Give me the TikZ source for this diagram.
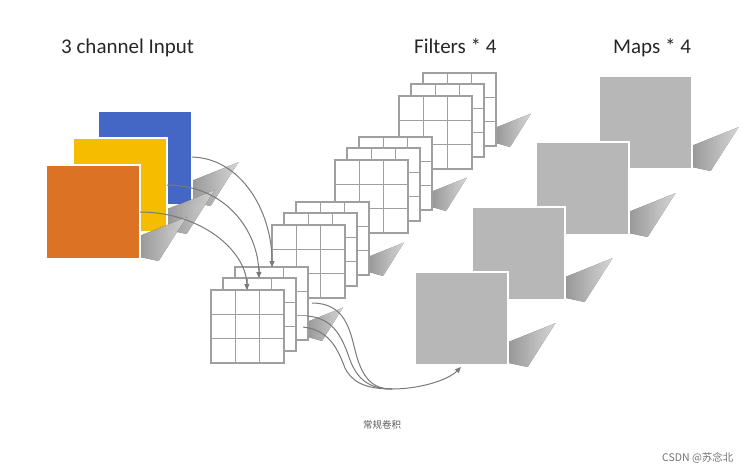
\documentclass[tikz,border=0pt]{standalone}
\usepackage{fontspec}
\setmainfont{Carlito}
\newfontfamily\cjk{Noto Sans CJK SC}
\usetikzlibrary{calc,arrows.meta}
\definecolor{cblue}{HTML}{4466C4}
\definecolor{cyel}{HTML}{F5BC00}
\definecolor{corg}{HTML}{DC7223}
\definecolor{cmap}{HTML}{B7B7B7}
\definecolor{cline}{HTML}{7A7A7A}
\tikzset{
  sq/.style={draw=white,line width=1.2pt,anchor=north west,minimum size=#1,inner sep=0pt,outer sep=0pt},
  cell/.style={sq=73pt,draw=gray!75,fill=white,line width=1.1pt},
  gl/.style={draw=gray!75,line width=1.1pt},
  conn/.style={draw=cline,line width=1pt},
  title/.style={font=\fontsize{21}{25}\selectfont,text=black!85,anchor=base west,inner sep=0pt},
  shadowq/.style={left color=black!30,right color=white,draw=none,opacity=0.8}
}
\newcommand{\shad}[3]{% right x, bottom y, size
  \fill[shadowq] (#1,#2-2) -- (#1,#2-#3*0.25) -- (#1+#3*0.5,#2-#3*0.45) -- (#1+#3*0.2,#2+2) -- cycle;}
\newcommand{\flt}[3]{% name, x, y
  \node[cell] (#1) at (#2,#3) {};
  \foreach \t in {1,2}{
    \draw[gl] ($(#1.north west)!\t/3!(#1.north east)$) -- ($(#1.south west)!\t/3!(#1.south east)$);
    \draw[gl] ($(#1.north west)!\t/3!(#1.south west)$) -- ($(#1.north east)!\t/3!(#1.south east)$);}}
\newcommand{\fstack}[3]{% prefix, x, y of front
  \shad{#2+24+73}{#3-24+73}{70}
  \flt{#1c}{#2+24}{#3-23}
  \flt{#1b}{#2+12}{#3-12}
  \flt{#1a}{#2}{#3}}
\begin{document}
\begin{tikzpicture}[x=1pt,y=-1pt]
\useasboundingbox (0,0) rectangle (743,475);
\node[title] (t1) at (61,53) {3 channel Input};
\node[title] (t2) at (414,53) {Filters * 4};
\node[title] (t3) at (613,53) {Maps * 4};
% maps
\shad{692}{169}{93}\node[sq=93pt,fill=cmap] (m4) at (599,76) {};
\shad{629}{235}{93}\node[sq=93pt,fill=cmap] (m3) at (536,142) {};
\shad{566}{300}{93}\node[sq=93pt,fill=cmap] (m2) at (472,207) {};
\shad{509}{365}{93}\node[sq=93pt,fill=cmap] (m1) at (415,272) {};
% filters
\fstack{d}{399}{96}
\fstack{c}{335}{160}
\fstack{b}{272}{225}
\fstack{a}{211}{290}
% inputs
\shad{192}{204}{93}\node[sq=94pt,fill=cblue] (in1) at (98,111) {};
\shad{168}{232}{93}\node[sq=94pt,fill=cyel] (in2) at (73,138) {};
\shad{140}{259}{93}\node[sq=94pt,fill=corg] (in3) at (46,165) {};
% input connectors
\coordinate (s1) at ($(in1.north east)!0.49!(in1.south east)$);
\coordinate (s2) at ($(in2.north east)!0.5!(in2.south east)$);
\coordinate (s3) at ($(in3.north east)!0.5!(in3.south east)$);
\draw[conn,-{Triangle[length=6pt,width=5pt]}] (s1) .. controls (240,158) and (272,210) .. (ac.north -| 272,0);
\draw[conn,-{Triangle[length=6pt,width=5pt]}] (s2) .. controls (225,185) and (258,230) .. (ab.north -| 259,0);
\draw[conn,-{Triangle[length=6pt,width=5pt]}] (s3) .. controls (200,212) and (246,250) .. (aa.north -| 247,0);
% output connectors
\coordinate (o1) at (312,303);
\coordinate (o2) at (307,316);
\coordinate (o3) at (303,327);
\coordinate (j) at (392,389);
\coordinate (e) at (461,367);
\draw[conn] (o1) .. controls (345,303) and (350,330) .. (355,350) .. controls (362,378) and (372,389) .. (j);
\draw[conn] (o2) .. controls (335,318) and (343,340) .. (350,360) .. controls (357,378) and (368,389) .. (j);
\draw[conn] (o3) .. controls (330,330) and (338,350) .. (345,368) .. controls (352,382) and (365,389) .. (j);
\draw[conn,-{Triangle[length=6pt,width=5pt]}] (j) .. controls (420,389) and (448,380) .. (e);
\node[font=\cjk\fontsize{9.5}{11}\selectfont,text=black!65] (cap) at (382,425) {常规卷积};
\node[font=\cjk\fontsize{10.5}{12}\selectfont,text=black!55,anchor=east] (wm) at (737,458) {CSDN @苏念北};
\end{tikzpicture}
\end{document}
